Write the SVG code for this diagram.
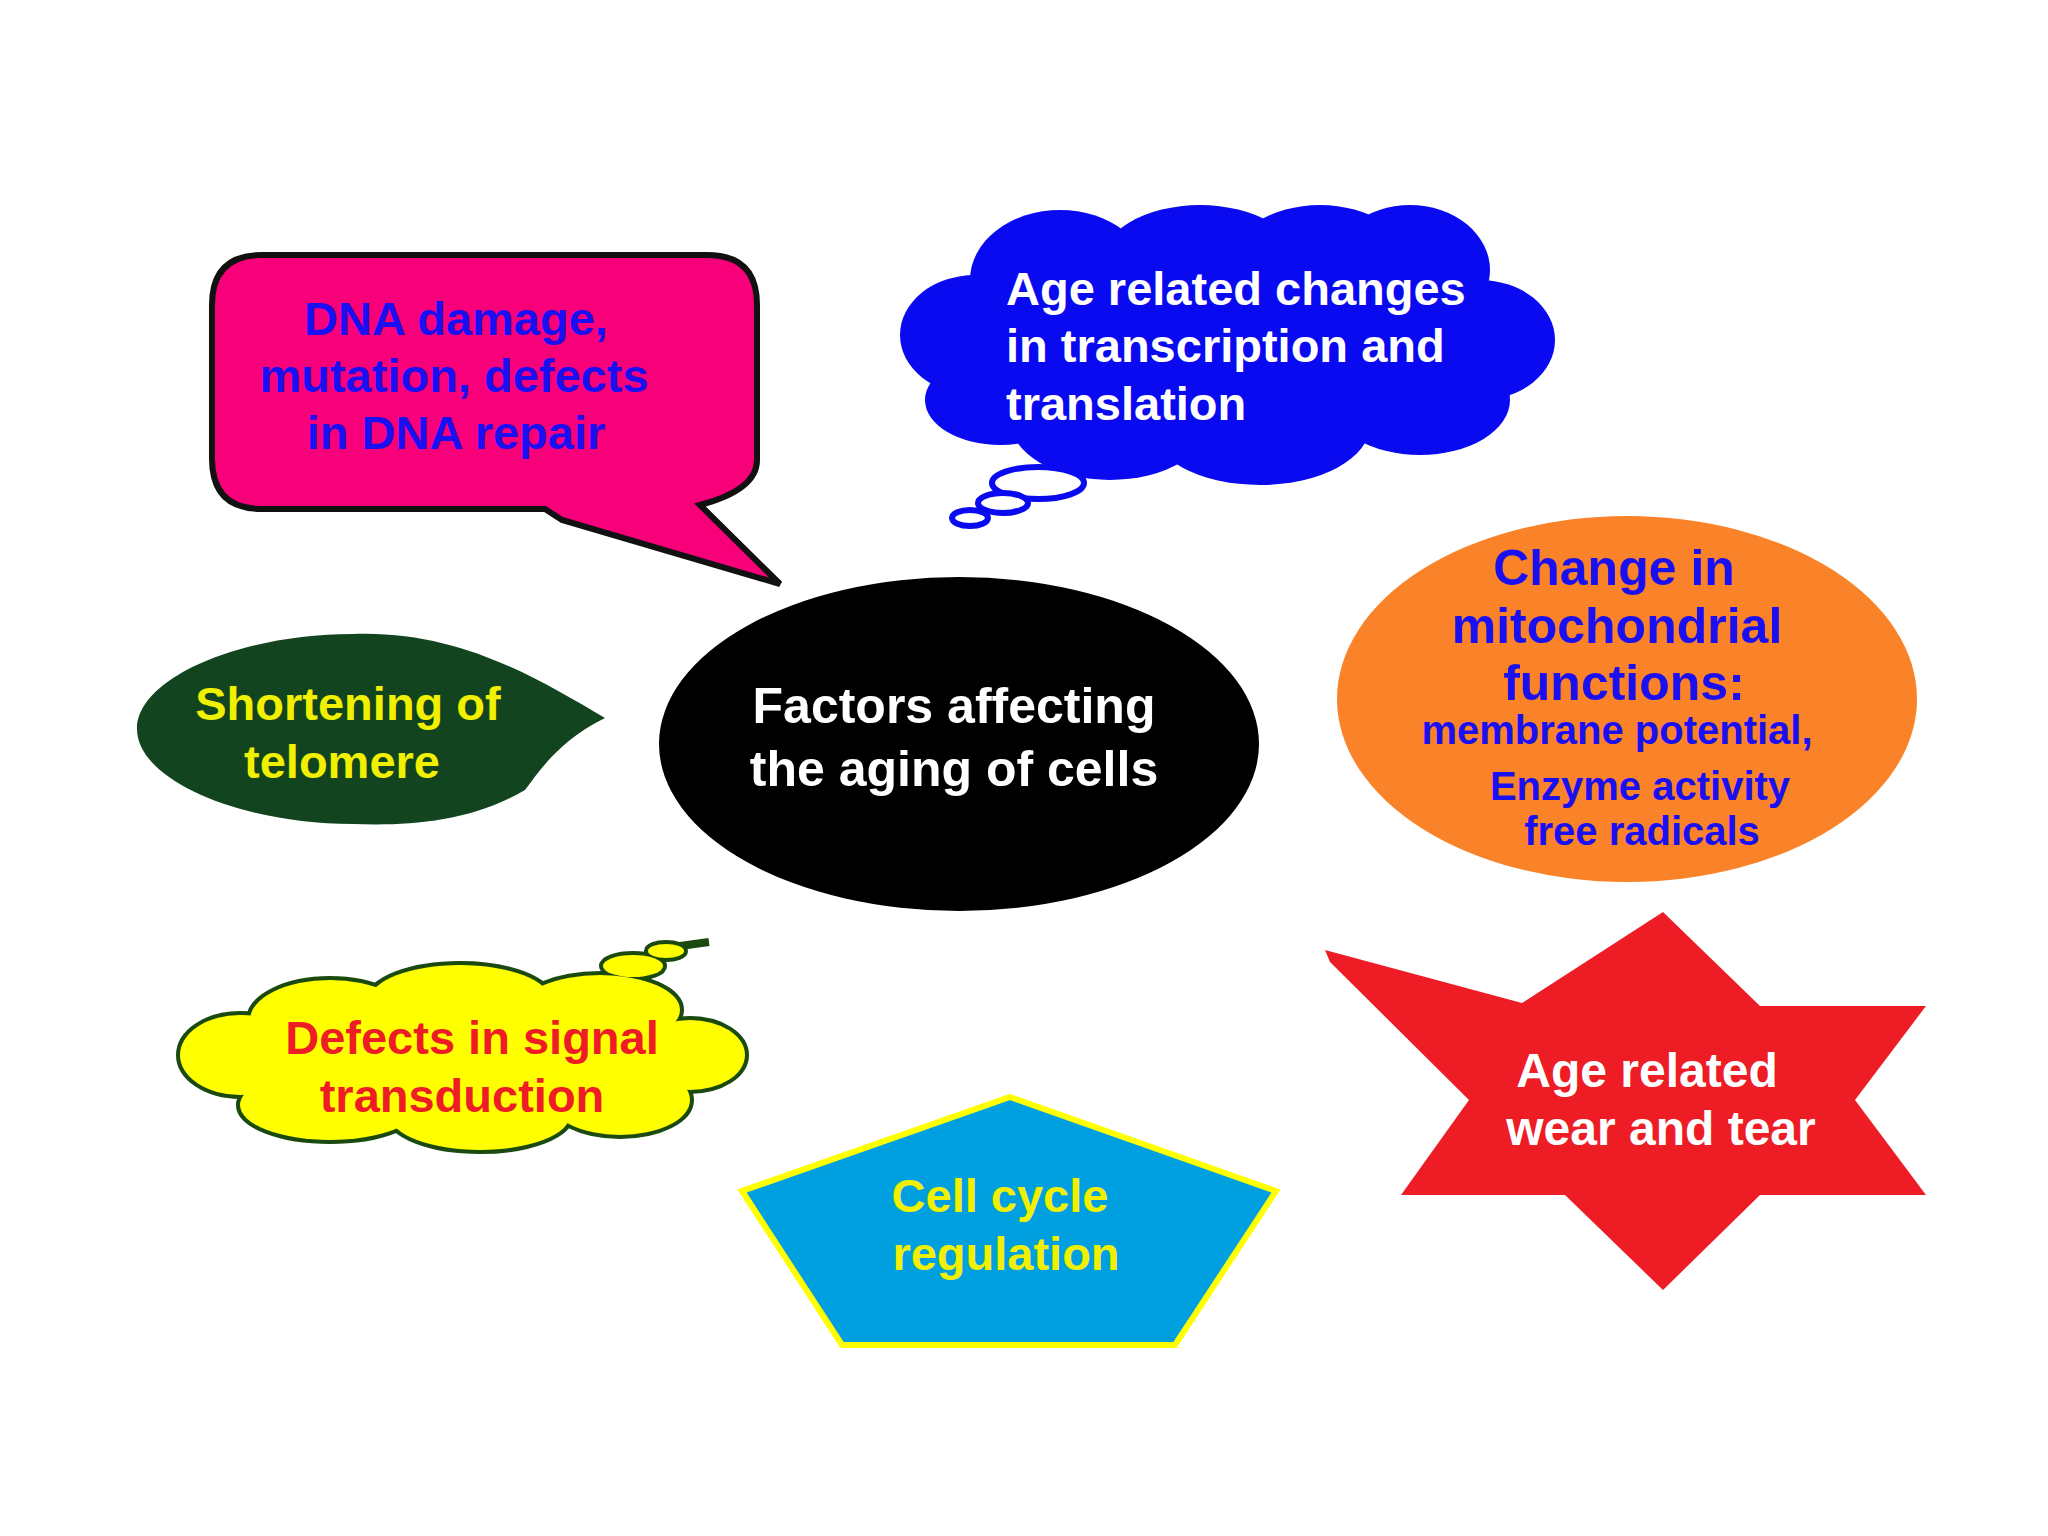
<svg xmlns="http://www.w3.org/2000/svg" width="2048" height="1536" viewBox="0 0 2048 1536">
<style>
text{font-family:"Liberation Sans",Arial,sans-serif;font-weight:bold;text-anchor:middle}
.b{fill:#1a0ff0;font-size:47px}
.w{fill:#fff;font-size:50px}
.y{fill:#f0f000;font-size:47px}
</style>
<rect width="2048" height="1536" fill="#fff"/>
<g id="dna">
<path d="M262,255 H707 Q757,255 757,305 V460 Q757,490 700,505 L780,584 L562,520 L545,509 H262 Q212,509 212,459 V305 Q212,255 262,255 Z" fill="#f8007a" stroke="#111" stroke-width="6"/>
<text class="b" x="456" y="335">DNA damage,</text>
<text class="b" x="454" y="392">mutation, defects</text>
<text class="b" x="456" y="449">in DNA repair</text>
</g>
<g id="transcription" fill="#0a0af0">
<ellipse cx="975" cy="335" rx="75" ry="60"/>
<ellipse cx="1060" cy="280" rx="90" ry="70"/>
<ellipse cx="1200" cy="265" rx="100" ry="60"/>
<ellipse cx="1320" cy="265" rx="90" ry="60"/>
<ellipse cx="1410" cy="270" rx="80" ry="65"/>
<ellipse cx="1480" cy="340" rx="75" ry="60"/>
<ellipse cx="1420" cy="400" rx="90" ry="55"/>
<ellipse cx="1260" cy="425" rx="110" ry="60"/>
<ellipse cx="1110" cy="420" rx="100" ry="60"/>
<ellipse cx="1000" cy="400" rx="75" ry="45"/>
<ellipse cx="1230" cy="340" rx="240" ry="100"/>
<ellipse cx="1038" cy="483" rx="46" ry="16" fill="#fff" stroke="#0a0af0" stroke-width="6"/>
<ellipse cx="1003" cy="503" rx="25" ry="10" fill="#fff" stroke="#0a0af0" stroke-width="6"/>
<ellipse cx="970" cy="518" rx="18" ry="8" fill="#fff" stroke="#0a0af0" stroke-width="6"/>
<text x="1006" y="305" style="text-anchor:start;fill:#fff;font-size:47px">Age related changes</text>
<text x="1006" y="362" style="text-anchor:start;fill:#fff;font-size:47px">in transcription and</text>
<text x="1006" y="420" style="text-anchor:start;fill:#fff;font-size:47px">translation</text>
</g>
<g id="center">
<ellipse cx="959" cy="744" rx="300" ry="167" fill="#000"/>
<text class="w" x="954" y="723">Factors affecting</text>
<text class="w" x="954" y="786">the aging of cells</text>
</g>
<g id="telomere">
<path d="M353,634 C460,630 540,680 605,718 C560,740 540,770 525,790 C470,822 410,826 353,824 C240,824 137,780 137,729 C137,678 240,634 353,634 Z" fill="#124420"/>
<text class="y" x="348" y="720">Shortening of</text>
<text class="y" x="342" y="778">telomere</text>
</g>
<g id="mito">
<ellipse cx="1627" cy="699" rx="290" ry="183" fill="#fa8228"/>
<text class="b" x="1614" y="585" style="font-size:50px">Change in</text>
<text class="b" x="1617" y="643" style="font-size:50px">mitochondrial</text>
<text class="b" x="1624" y="700" style="font-size:50px">functions:</text>
<text class="b" x="1617" y="744" style="font-size:40px">membrane potential,</text>
<text class="b" x="1640" y="800" style="font-size:40px">Enzyme activity</text>
<text class="b" x="1642" y="845" style="font-size:40px">free radicals</text>
</g>
<g id="wear">
<polygon points="1663,912 1760,1006 1926,1006 1855,1100 1926,1195 1760,1195 1663,1290 1565,1195 1401,1195 1469,1100 1330,962 1325,950 1522,1003" fill="#ee1c25"/>
<text class="w" x="1647" y="1087" style="font-size:48px">Age related</text>
<text class="w" x="1661" y="1145" style="font-size:48px">wear and tear</text>
</g>
<g id="signal">
<g fill="none" stroke="#1a4a10" stroke-width="8">
<ellipse cx="240" cy="1055" rx="60" ry="40"/>
<ellipse cx="330" cy="1020" rx="80" ry="40"/>
<ellipse cx="460" cy="1000" rx="90" ry="35"/>
<ellipse cx="600" cy="1010" rx="80" ry="35"/>
<ellipse cx="690" cy="1055" rx="55" ry="35"/>
<ellipse cx="620" cy="1100" rx="70" ry="35"/>
<ellipse cx="480" cy="1115" rx="90" ry="35"/>
<ellipse cx="330" cy="1105" rx="90" ry="35"/>
<ellipse cx="633" cy="966" rx="30" ry="11"/>
<ellipse cx="666" cy="951" rx="18" ry="7"/>
<path d="M680,946 L709,942"/>
</g>
<g fill="#ffff00">
<ellipse cx="240" cy="1055" rx="60" ry="40"/>
<ellipse cx="330" cy="1020" rx="80" ry="40"/>
<ellipse cx="460" cy="1000" rx="90" ry="35"/>
<ellipse cx="600" cy="1010" rx="80" ry="35"/>
<ellipse cx="690" cy="1055" rx="55" ry="35"/>
<ellipse cx="620" cy="1100" rx="70" ry="35"/>
<ellipse cx="480" cy="1115" rx="90" ry="35"/>
<ellipse cx="330" cy="1105" rx="90" ry="35"/>
<ellipse cx="460" cy="1060" rx="220" ry="55"/>
<ellipse cx="633" cy="966" rx="30" ry="11"/>
<ellipse cx="666" cy="951" rx="18" ry="7"/>
</g>
<text x="472" y="1054" style="fill:#ee1c25;font-size:47px">Defects in signal</text>
<text x="462" y="1112" style="fill:#ee1c25;font-size:47px">transduction</text>
</g>
<g id="cellcycle">
<polygon points="1010,1097 1276,1191 1175,1345 842,1345 742,1191" fill="#00a0e0" stroke="#ffff00" stroke-width="6"/>
<text class="y" x="1000" y="1212">Cell cycle</text>
<text class="y" x="1006" y="1270">regulation</text>
</g>
<g id="connectors"/>
</svg>
